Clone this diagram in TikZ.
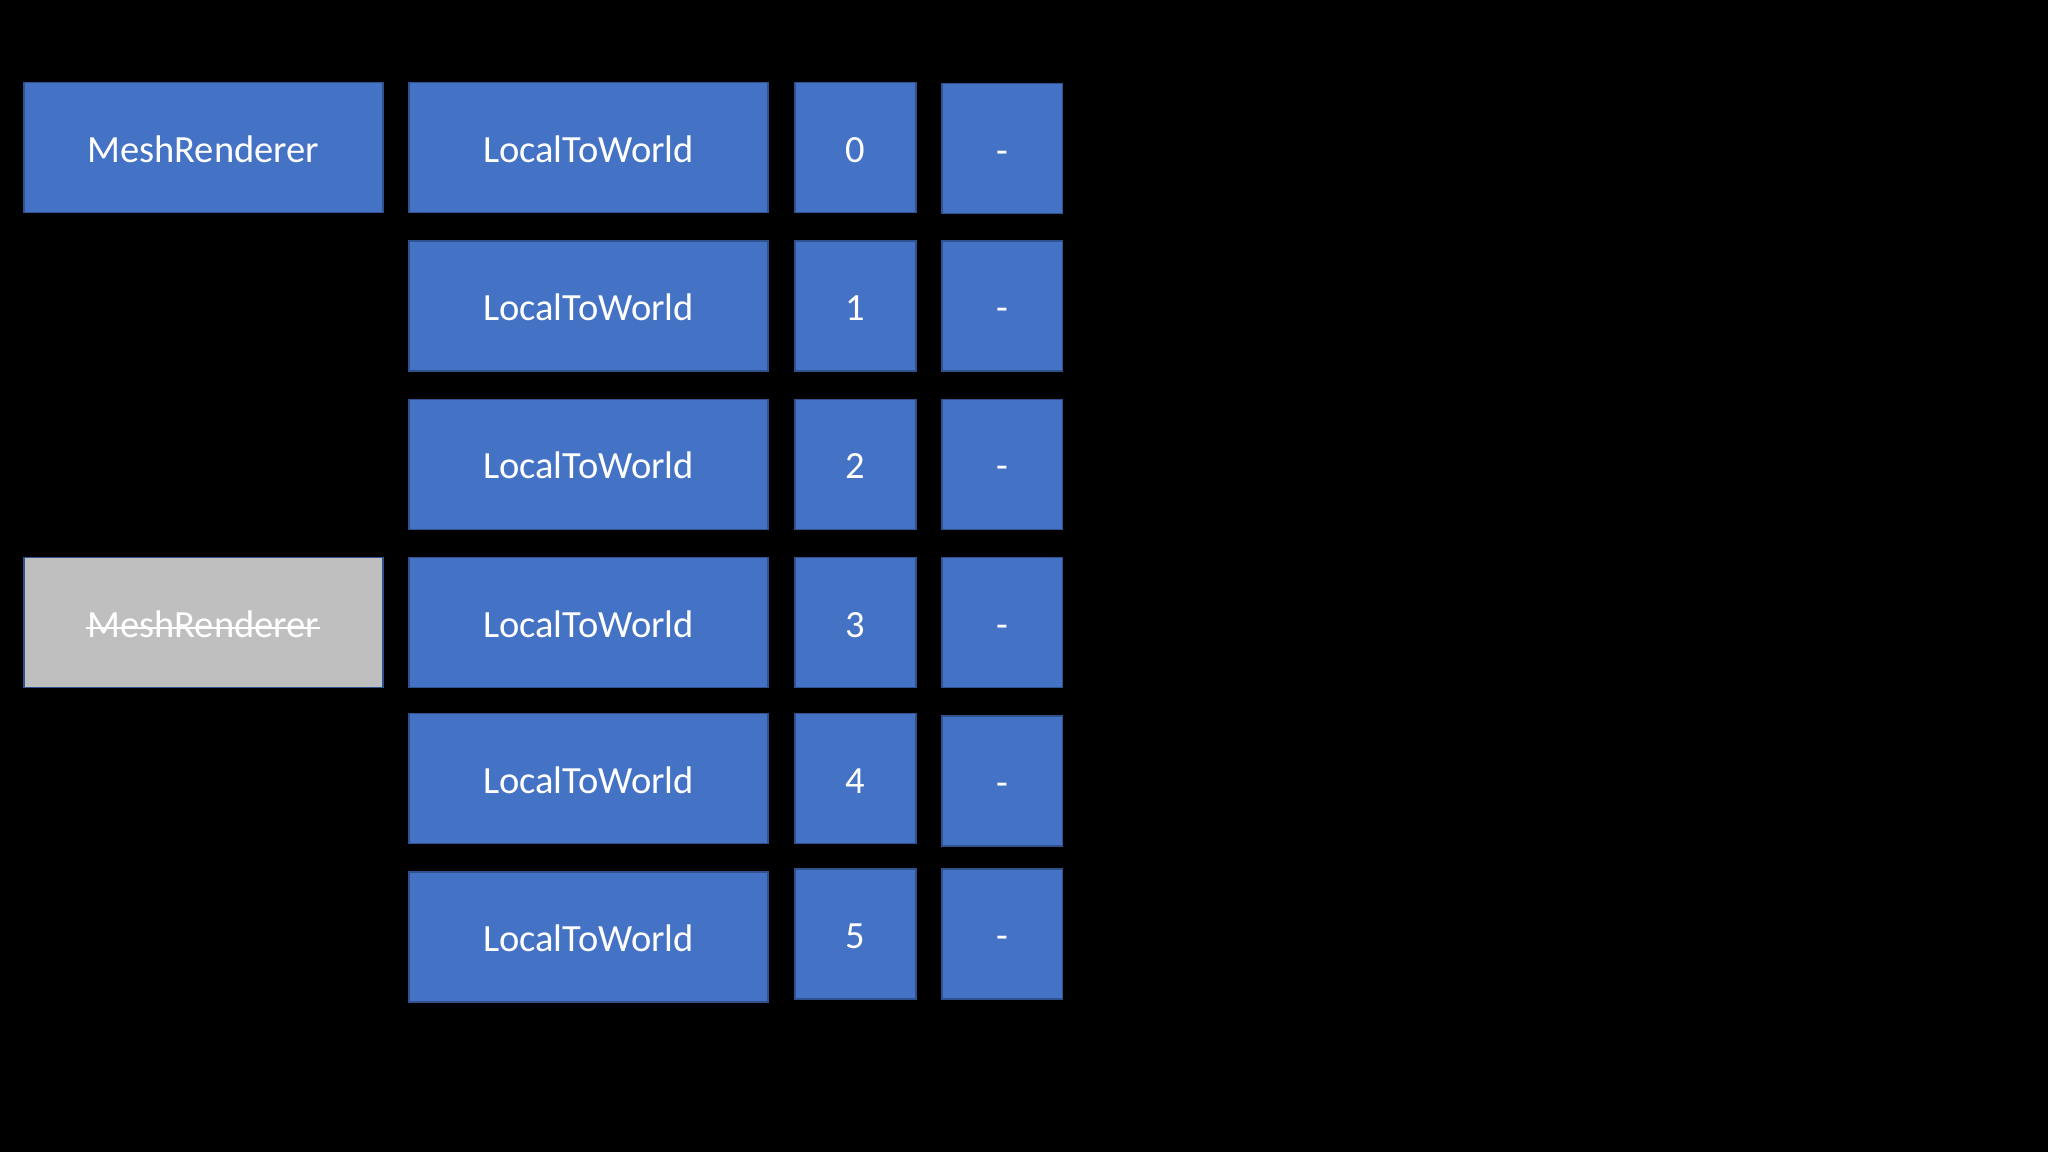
\documentclass[tikz,border=0pt]{standalone}
\usepackage{fontspec}
\setmainfont{Carlito}
\usetikzlibrary{calc}
\definecolor{boxblue}{HTML}{4472C4}
\definecolor{boxedge}{HTML}{2F528F}
\definecolor{boxgray}{HTML}{BFBFBF}
\tikzset{
  celltext/.style={text=white, font=\fontsize{38.5}{46}\selectfont, inner sep=0pt,
    text height=35pt, text depth=6pt},
  cell/.style={celltext, draw=boxedge, fill=boxblue, line width=1.5pt, minimum height=130pt},
  wide/.style={cell, minimum width=359pt},
  num/.style={cell, minimum width=121pt},
  dashcell/.style={cell, minimum width=120.5pt},
  grey/.style={fill=boxgray}
}
\begin{document}
\begin{tikzpicture}[x=1pt,y=-1pt]
\fill[black] (0,0) rectangle (2048,1152);
\useasboundingbox (0,0) rectangle (2048,1152);
% column A
\node[wide] (mr0) at (203.25,147.5) {MeshRenderer};
\node[wide,grey] (mr3) at (203.25,622.5) {};
\node[celltext] (mr3t) at (mr3.center) {MeshRenderer};
\draw[white, line width=2pt] ($(mr3t.west)+(-1,5)$) -- ($(mr3t.east)+(1,5)$);
% column B
\node[wide] (l0) at (588.5,147.5) {LocalToWorld};
\node[wide] (l1) at (588.5,305.75) {LocalToWorld};
\node[wide] (l2) at (588.5,464.25) {LocalToWorld};
\node[wide] (l3) at (588.5,622.5) {LocalToWorld};
\node[wide] (l4) at (588.5,778.5) {LocalToWorld};
\node[wide] (l5) at (588.5,937) {LocalToWorld};
% column C
\node[num] (n0) at (855.5,147.5) {0};
\node[num] (n1) at (855.5,305.75) {1};
\node[num] (n2) at (855.5,464.25) {2};
\node[num] (n3) at (855.5,622.5) {3};
\node[num] (n4) at (855.5,778.5) {4};
\node[num] (n5) at (855.5,934) {5};
% column D
\node[dashcell] (d0) at (1002.25,148.5) {-};
\node[dashcell] (d1) at (1002.25,305.75) {-};
\node[dashcell] (d2) at (1002.25,464.25) {-};
\node[dashcell] (d3) at (1002.25,622.5) {-};
\node[dashcell] (d4) at (1002.25,781) {-};
\node[dashcell] (d5) at (1002.25,934) {-};
\end{tikzpicture}
\end{document}
